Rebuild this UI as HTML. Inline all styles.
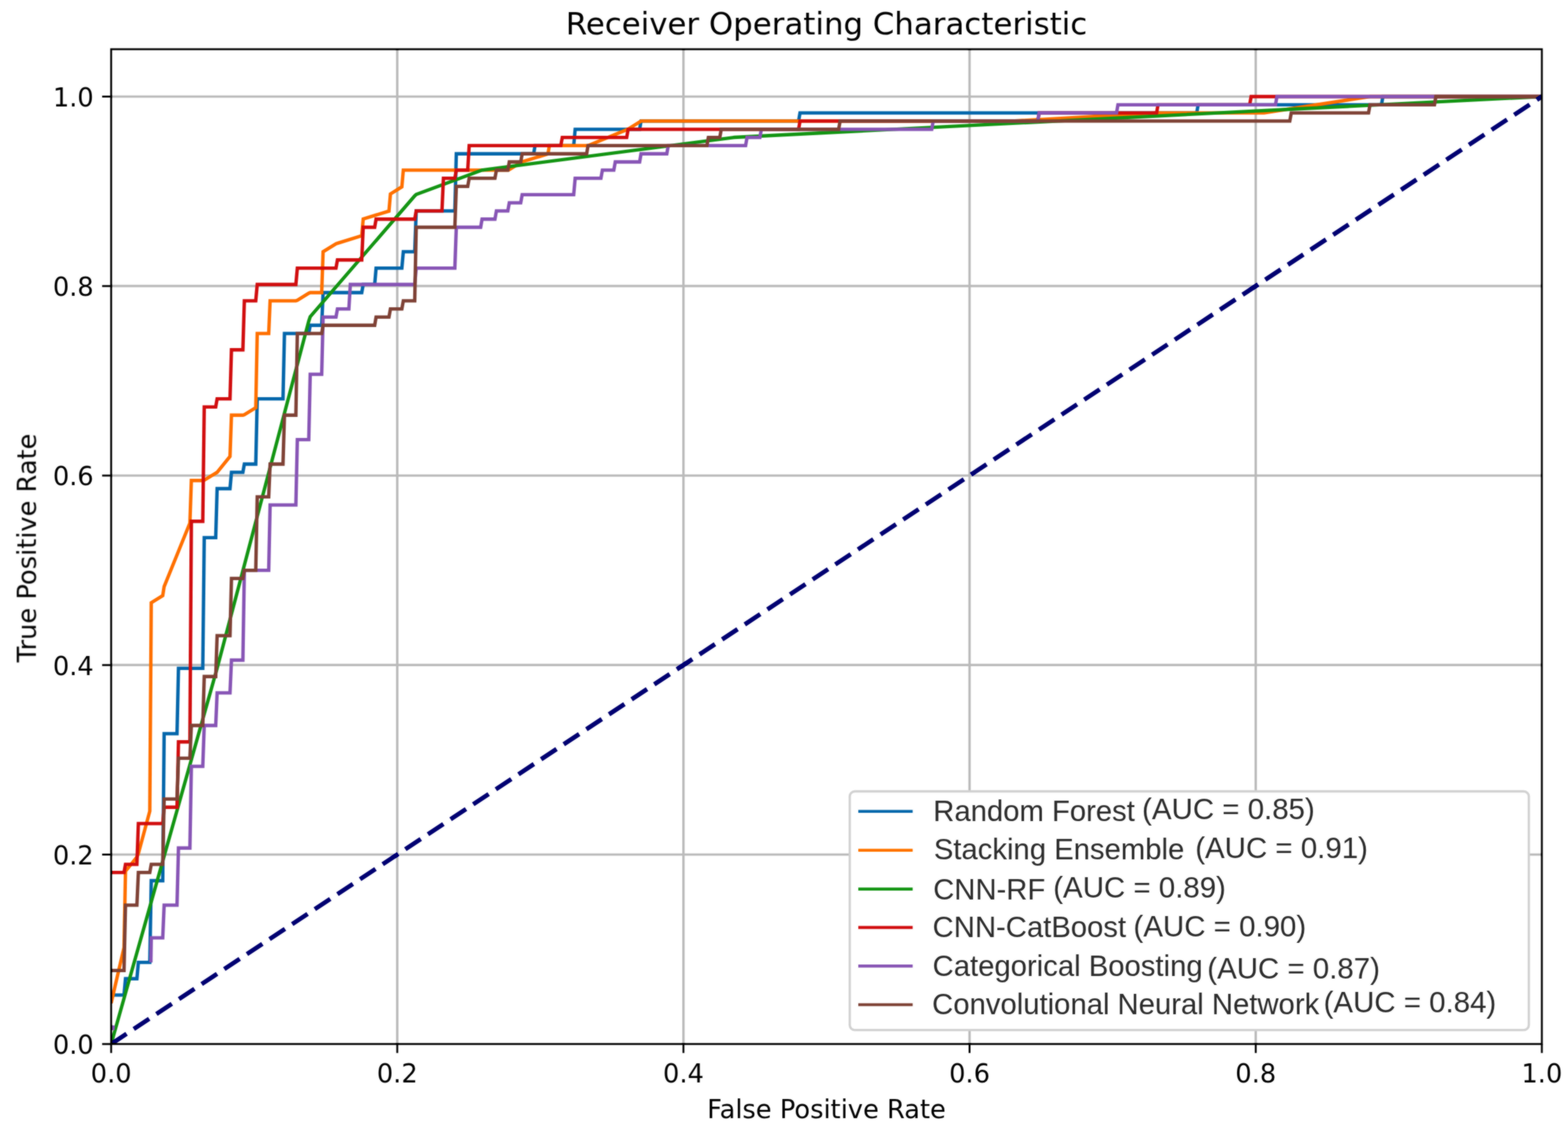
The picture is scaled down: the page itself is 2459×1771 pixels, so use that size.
<!DOCTYPE html>
<html lang="en">
<head>
<meta charset="utf-8">
<title>Receiver Operating Characteristic</title>
<style>
html,body{margin:0;padding:0;background:#fff;}
body{width:2459px;height:1771px;overflow:hidden;}
svg{display:block;}
.dv{font-family:"DejaVu Sans","Liberation Sans",sans-serif;fill:#000;}
.lg{font-family:"Liberation Sans","DejaVu Sans",sans-serif;fill:#424242;font-size:46.2px;}
</style>
</head>
<body>
<svg xmlns="http://www.w3.org/2000/svg" width="2459" height="1771" viewBox="0 0 2459 1771">
<defs><filter id="bl" x="0" y="0" width="100%" height="100%" color-interpolation-filters="sRGB"><feGaussianBlur in="SourceGraphic" stdDeviation="0.8" result="b"/><feComposite in="SourceGraphic" in2="b" operator="arithmetic" k1="0" k2="0.45" k3="0.55" k4="0"/><feComponentTransfer><feFuncR type="linear" slope="1.12" intercept="-0.12"/><feFuncG type="linear" slope="1.12" intercept="-0.12"/><feFuncB type="linear" slope="1.12" intercept="-0.12"/></feComponentTransfer></filter><clipPath id="ax"><rect x="174.3" y="77.2" width="2243.7" height="1560.5"/></clipPath></defs>
<rect width="2459" height="1771" fill="#fff"/>
<g filter="url(#bl)">
<path d="M623.0 77.2V1637.7M1071.8 77.2V1637.7M1520.5 77.2V1637.7M1969.3 77.2V1637.7M174.3 1340.5H2418.0M174.3 1043.2H2418.0M174.3 746.0H2418.0M174.3 448.7H2418.0M174.3 151.5H2418.0" stroke="#c2c2c2" stroke-width="3.7" fill="none"/>
<g clip-path="url(#ax)" fill="none" stroke-linejoin="miter" stroke-linecap="butt">
<path d="M174.3 1560.8L194.5 1560.8L196.8 1535.2L214.7 1535.2L217.0 1509.6L234.9 1509.6L237.2 1381.5L255.2 1381.5L257.4 1150.8L277.6 1150.8L279.9 1048.3L318.0 1048.3L320.3 843.4L338.3 843.4L340.5 766.5L360.7 766.5L363.0 740.9L380.9 740.9L383.2 728.0L401.1 728.0L403.4 625.6L443.8 625.6L446.1 523.1L484.2 523.1L486.5 510.2L504.5 510.2L506.7 459.0L567.3 459.0L569.6 446.2L587.6 446.2L589.8 420.6L630.2 420.6L632.5 394.9L650.4 394.9L652.7 330.9L713.3 330.9L715.6 241.2L836.9 241.2L839.1 228.4L899.7 228.4L902.0 202.8L1003.1 202.8L1005.3 189.9L1252.4 189.9L1254.6 177.1L1876.7 177.1L1879.0 164.3L2166.5 164.3L2168.7 151.5L2418.0 151.5" stroke="#1f77b4" stroke-width="5.35"/>
<path d="M174.3 1573.6L194.5 1486.4L196.8 1366.6L214.7 1344.4L217.0 1338.9L234.9 1272.4L237.2 945.5L255.2 934.4L257.4 920.2L297.8 820.5L300.1 753.7L318.0 753.7L320.3 753.3L340.5 740.9L360.7 715.9L363.0 651.2L380.9 651.2L383.2 650.5L401.1 639.4L403.4 523.1L421.4 523.1L423.6 471.8L464.0 471.8L466.3 471.1L484.2 460.0L486.5 459.0L504.5 459.0L506.7 394.9L526.9 382.5L529.2 381.6L567.3 369.8L569.6 343.5L610.0 331.1L612.3 304.2L630.2 293.1L632.5 266.8L796.4 266.8L798.7 266.1L816.6 255.0L818.9 253.8L859.3 241.4L861.6 228.4L922.2 228.4L982.8 203.5L985.1 202.4L1005.3 189.9L1587.0 189.9L1813.8 177.2L1816.1 177.1L1980.0 177.1L1982.3 177.0L2146.2 151.8L2148.5 151.5L2418.0 151.5" stroke="#ff7f0e" stroke-width="5.35"/>
<path d="M174.3 1637.7L340.5 1048.3L484.2 503.8L486.5 496.8L650.4 307.2L652.7 305.0L756.0 266.8L1149.0 215.8L1151.3 215.5L2418.0 151.5" stroke="#2ca02c" stroke-width="5.35"/>
<path d="M174.3 1368.6L194.5 1368.6L196.8 1355.8L214.7 1355.8L217.0 1291.8L255.2 1291.8L257.4 1266.2L277.6 1266.2L279.9 1163.7L297.8 1163.7L300.1 817.7L318.0 817.7L320.3 638.4L338.3 638.4L340.5 625.6L360.7 625.6L363.0 548.7L380.9 548.7L383.2 471.8L401.1 471.8L403.4 446.2L464.0 446.2L466.3 420.6L526.9 420.6L529.2 407.7L567.3 407.7L569.6 356.5L587.6 356.5L589.8 343.7L650.4 343.7L652.7 330.9L693.1 330.9L695.4 279.6L713.3 279.6L715.6 266.8L733.5 266.8L735.8 228.4L879.5 228.4L881.8 215.6L982.8 215.6L985.1 202.8L1252.4 202.8L1254.6 189.9L1627.4 189.9L1629.7 177.1L1813.8 177.1L1816.1 164.3L1959.8 164.3L1962.1 151.5L2418.0 151.5" stroke="#d62728" stroke-width="5.35"/>
<path d="M176.9 1616.0L177.7 1608.5M236.6 1509.6L237.2 1471.1L255.2 1471.1L257.4 1419.9L277.6 1419.9L279.9 1330.2L297.8 1330.2L300.1 1202.1L318.0 1202.1L320.3 1138.0L338.3 1138.0L340.5 1086.8L360.7 1086.8L363.0 1035.5L380.9 1035.5L383.2 894.6L421.4 894.6L423.6 792.1L464.0 792.1L466.3 689.6L484.2 689.6L486.5 587.1L504.5 587.1L506.7 497.4L526.9 497.4L529.2 484.6L547.1 484.6L549.4 446.2L650.4 446.2L652.7 420.6L713.3 420.6L715.6 356.5L753.8 356.5L756.0 343.7L776.2 343.7L778.5 330.9L796.4 330.9L798.7 318.1L816.6 318.1L818.9 305.3L899.7 305.3L902.0 279.6L942.4 279.6L944.7 266.8L962.6 266.8L964.9 254.0L1003.1 254.0L1005.3 241.2L1045.7 241.2L1048.0 228.4L1169.3 228.4L1171.5 215.6L1191.7 215.6L1194.0 202.8L1461.2 202.8L1463.5 189.9L1627.4 189.9L1629.7 177.1L1751.0 177.1L1753.2 164.3L2000.3 164.3L2002.5 151.5L2418.0 151.5" stroke="#9467bd" stroke-width="5.35"/>
<path d="M174.3 1522.4L194.5 1522.4L196.8 1419.9L214.7 1419.9L217.0 1368.6L234.9 1368.6L237.2 1355.8L255.2 1355.8L257.4 1253.3L277.6 1253.3L279.9 1189.3L297.8 1189.3L300.1 1138.0L318.0 1138.0L320.3 1061.2L338.3 1061.2L340.5 997.1L360.7 997.1L363.0 907.4L380.9 907.4L383.2 894.6L401.1 894.6L403.4 779.3L421.4 779.3L423.6 728.0L443.8 728.0L446.1 651.2L464.0 651.2L466.3 523.1L504.5 523.1L506.7 510.2L587.6 510.2L589.8 497.4L610.0 497.4L612.3 484.6L630.2 484.6L632.5 471.8L650.4 471.8L652.7 356.5L713.3 356.5L715.6 292.4L733.5 292.4L735.8 279.6L776.2 279.6L778.5 266.8L796.4 266.8L798.7 254.0L816.6 254.0L818.9 241.2L920.0 241.2L922.2 228.4L1108.6 228.4L1110.9 215.6L1128.8 215.6L1131.1 202.8L1315.2 202.8L1317.5 189.9L2022.7 189.9L2025.0 177.1L2146.2 177.1L2148.5 164.3L2249.6 164.3L2251.8 151.5L2418.0 151.5" stroke="#8c564b" stroke-width="5.35"/>
<path d="M174.3 1637.7L2418.0 151.5" stroke="#000080" stroke-width="7.00" stroke-dasharray="29.00 13.57"/>
</g>
<path d="M174.3 1637.7v14.1M174.3 1637.7h-14.1M623.0 1637.7v14.1M174.3 1340.5h-14.1M1071.8 1637.7v14.1M174.3 1043.2h-14.1M1520.5 1637.7v14.1M174.3 746.0h-14.1M1969.3 1637.7v14.1M174.3 448.7h-14.1M2418.0 1637.7v14.1M174.3 151.5h-14.1" stroke="#000" stroke-width="2.95" fill="none"/>
<rect x="174.3" y="77.2" width="2243.7" height="1560.5" fill="none" stroke="#000" stroke-width="2.95"/>
<text class="dv" font-size="40.29" text-anchor="middle" x="174.3" y="1698.0">0.0</text>
<text class="dv" font-size="40.29" text-anchor="middle" x="623.0" y="1698.0">0.2</text>
<text class="dv" font-size="40.29" text-anchor="middle" x="1071.8" y="1698.0">0.4</text>
<text class="dv" font-size="40.29" text-anchor="middle" x="1520.5" y="1698.0">0.6</text>
<text class="dv" font-size="40.29" text-anchor="middle" x="1969.3" y="1698.0">0.8</text>
<text class="dv" font-size="40.29" text-anchor="middle" x="2418.0" y="1698.0">1.0</text>
<text class="dv" font-size="40.29" text-anchor="end" x="147.0" y="1653.1">0.0</text>
<text class="dv" font-size="40.29" text-anchor="end" x="147.0" y="1355.9">0.2</text>
<text class="dv" font-size="40.29" text-anchor="end" x="147.0" y="1058.6">0.4</text>
<text class="dv" font-size="40.29" text-anchor="end" x="147.0" y="761.4">0.6</text>
<text class="dv" font-size="40.29" text-anchor="end" x="147.0" y="464.1">0.8</text>
<text class="dv" font-size="40.29" text-anchor="end" x="147.0" y="166.9">1.0</text>
<text class="dv" font-size="48.35" text-anchor="middle" x="1296.2" y="53.6">Receiver Operating Characteristic</text>
<text class="dv" font-size="40.29" text-anchor="middle" x="1296.2" y="1754.2">False Positive Rate</text>
<text class="dv" font-size="40.29" text-anchor="middle" transform="translate(56.3 859.5) rotate(-90)">True Positive Rate</text>
<rect x="1332.6" y="1241.4" width="1065.0" height="374.4" rx="8" ry="8" fill="#fff" stroke="#d6d6d6" stroke-width="3.6"/>
<path d="M1346.0 1272.8H1431.3" stroke="#1f77b4" stroke-width="4.6" fill="none"/>
<text class="lg" style="font-size:45.9px" x="1463.5" y="1288.0">Random Forest</text>
<text class="lg" x="1791.1" y="1284.6">(AUC = 0.85)</text>
<path d="M1346.0 1333.8H1431.3" stroke="#ff7f0e" stroke-width="4.6" fill="none"/>
<text class="lg" style="font-size:45.9px" x="1464.4" y="1347.9">Stacking Ensemble</text>
<text class="lg" x="1874.4" y="1345.5">(AUC = 0.91)</text>
<path d="M1346.0 1394.6H1431.3" stroke="#2ca02c" stroke-width="4.6" fill="none"/>
<text class="lg" style="font-size:45.9px" x="1463.4" y="1410.6">CNN-RF</text>
<text class="lg" x="1651.7" y="1407.6">(AUC = 0.89)</text>
<path d="M1346.0 1454.9H1431.3" stroke="#d62728" stroke-width="4.6" fill="none"/>
<text class="lg" style="font-size:45.9px" x="1462.6" y="1470.4">CNN-CatBoost</text>
<text class="lg" x="1777.6" y="1469.2">(AUC = 0.90)</text>
<path d="M1346.0 1515.4H1431.3" stroke="#9467bd" stroke-width="4.6" fill="none"/>
<text class="lg" style="font-size:45.9px" x="1462.6" y="1531.4">Categorical Boosting</text>
<text class="lg" x="1893.3" y="1535.0">(AUC = 0.87)</text>
<path d="M1346.0 1576.0H1431.3" stroke="#8c564b" stroke-width="4.6" fill="none"/>
<text class="lg" style="font-size:45.9px" x="1461.8" y="1591.1">Convolutional Neural Network</text>
<text class="lg" x="2075.7" y="1588.2">(AUC = 0.84)</text>
</g>
</svg>
</body>
</html>
